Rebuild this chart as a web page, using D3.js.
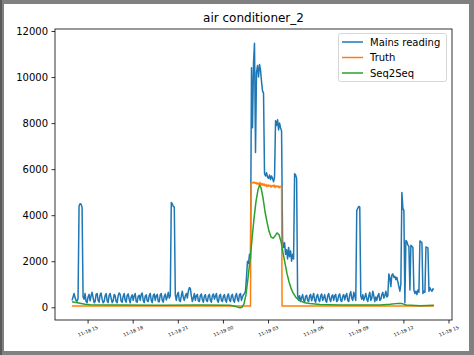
<!DOCTYPE html>
<html><head><meta charset="utf-8">
<script src="https://cdn.jsdelivr.net/npm/d3@7"></script>
<style>html,body{margin:0;padding:0;background:#808080;overflow:hidden} svg{display:block}</style>
</head><body>
<svg id="c" width="474" height="355"></svg>
<script>
const chartTitle = "air conditioner_2";
const seriesNames = ["Mains reading", "Truth", "Seq2Seq"];
const seriesColors = ["#1f77b4", "#ff7f0e", "#2ca02c"];

// time of first sample and sampling step of the mains reading
const startTime = new Date(2011, 10, 18, 13, 58);
const mainsStepMinutes = 4;

// Mains reading (W), one value per step
const mains = [
300,450,600,420,300,260,380,4400,4500,4480,
4350,450,350,600,250,200,450,560,280,500,
650,420,200,250,560,600,300,220,550,620,
350,200,250,500,600,280,200,520,600,400,
200,280,560,500,250,200,500,620,560,260,
220,480,600,300,220,520,580,350,200,450,
540,300,500,600,250,220,480,520,300,560,
620,300,200,480,540,280,250,520,600,300,
200,520,580,300,500,560,250,240,550,600,
300,220,480,580,320,450,650,400,500,4550,
4500,4380,4350,550,300,550,650,300,250,500,
700,420,300,500,600,400,700,850,820,500,
250,400,600,300,500,560,280,250,520,580,
320,220,480,550,300,250,500,560,300,220,
520,580,350,480,600,280,220,500,560,300,
250,480,550,300,220,500,580,320,250,500,
560,300,220,480,600,350,250,550,600,300,
450,550,600,700,1300,2000,1900,2300,2100,10400,
7800,10600,11470,6720,10200,10500,10000,10550,10300,9800,
9400,9300,5800,5700,5850,5650,5600,5750,5550,5700,
5600,5450,5650,8100,7900,8150,7700,8000,7800,7650,
2900,2600,2800,2300,2500,2100,2600,2200,2450,2000,
2300,2100,5800,5750,5600,550,300,500,250,420,
550,300,220,480,520,300,250,500,560,280,
450,600,300,220,480,560,320,250,500,580,
300,420,550,280,220,500,600,350,250,480,
540,300,500,560,250,300,520,580,300,250,
480,550,320,500,600,300,250,550,680,400,
300,650,500,300,4200,4300,4380,4350,500,350,
550,300,450,600,350,250,500,650,300,400,
700,500,250,450,300,500,600,300,350,550,
650,400,500,700,450,500,1450,1300,900,1400,
1450,1300,1350,1200,1300,1100,900,700,1000,4990,
4300,4200,200,2900,2850,2700,2650,750,2690,2650,
2600,750,600,700,550,750,650,2880,2850,2800,
600,700,650,2620,2600,2580,700,850,750,700,
800,780
];

// Truth (minutes after start, W)
const truthMinutes = [0,712,714,718,722,726,730,734,738,742,746,750,754,758,762,766,770,774,778,782,786,790,794,798,802,806,810,814,818,822,826,830,834,836,838,1444];
const truthWatts   = [60,60,5380,5420,5400,5440,5380,5420,5350,5400,5330,5420,5300,5380,5290,5360,5270,5330,5240,5320,5260,5300,5220,5290,5250,5310,5200,5280,5230,5270,5190,5260,5220,5240,60,60];

// Seq2Seq prediction (minutes after start, W)
const seqMinutes = [0,16,32,52,72,191,351,511,630,654,670,678,686,694,702,710,718,726,734,742,748,754,762,770,778,786,794,802,810,818,826,834,842,850,858,866,874,882,894,910,929,949,989,1069,1229,1269,1301,1317,1333,1389,1444];
const seqWatts   = [240,210,180,130,110,100,90,95,90,30,-20,0,150,550,1250,2050,2950,3850,4600,5100,5300,5200,4750,4150,3700,3300,3050,3000,3100,3230,3150,2850,2350,1900,1450,1100,820,620,420,280,200,160,120,100,100,130,170,160,100,70,90];

const yTicks = [0, 2000, 4000, 6000, 8000, 10000, 12000];
const xTickTimes = [
  new Date(2011,10,18,15), new Date(2011,10,18,18), new Date(2011,10,18,21),
  new Date(2011,10,19,0), new Date(2011,10,19,3), new Date(2011,10,19,6),
  new Date(2011,10,19,9), new Date(2011,10,19,12), new Date(2011,10,19,15)
];
const xTickLabels = ["11-18 15","11-18 18","11-18 21","11-19 00","11-19 03","11-19 06","11-19 09","11-19 12","11-19 15"];
const xDomain = [new Date(2011,10,18,12,50), new Date(2011,10,19,15,14)];
const yDomain = [-552, 12087];

// ---------- drawing ----------
const svg = d3.select("#c");
const L = 55, R = 452, T = 29, B = 320;
const font = "'DejaVu Sans', sans-serif";

svg.append("rect").attr("x", 0).attr("y", 0).attr("width", 2).attr("height", 355).attr("fill", "#5a5a5a");
svg.append("rect").attr("x", 4).attr("y", 4).attr("width", 465).attr("height", 347).attr("fill", "#fff");

const x = d3.scaleTime().domain(xDomain).range([L, R]);
const y = d3.scaleLinear().domain(yDomain).range([B, T]);
const addMin = m => new Date(startTime.getTime() + m * 60000);

const mainsData = mains.map((v, i) => ({t: addMin(i * mainsStepMinutes), v}));
const truthData = truthMinutes.map((m, i) => ({t: addMin(m), v: truthWatts[i]}));
const seqData = seqMinutes.map((m, i) => ({t: addMin(m), v: seqWatts[i]}));

svg.append("defs").append("clipPath").attr("id", "clip")
  .append("rect").attr("x", L).attr("y", T).attr("width", R - L).attr("height", B - T);

const line = d3.line().x(d => x(d.t)).y(d => y(d.v));
const g = svg.append("g").attr("clip-path", "url(#clip)");
[mainsData, truthData, seqData].forEach((data, i) => {
  g.append("path").datum(data).attr("d", line)
    .attr("fill", "none").attr("stroke", seriesColors[i])
    .attr("stroke-width", 1.5).attr("stroke-linejoin", "round");
});

// axes
const yAxis = d3.axisLeft(y).tickValues(yTicks).tickSize(3.5).tickPadding(3.5).tickFormat(d3.format("d"));
const ya = svg.append("g").attr("transform", `translate(${L},0)`).call(yAxis);
ya.select(".domain").remove();
ya.selectAll("line").attr("stroke", "#000").attr("stroke-width", 0.8);
ya.selectAll("text").attr("font-family", font).attr("font-size", 10).attr("fill", "#000");

const xAxis = d3.axisBottom(x).tickValues(xTickTimes).tickSize(3.5).tickFormat((d, i) => xTickLabels[i]);
const xa = svg.append("g").attr("transform", `translate(0,${B})`).call(xAxis);
xa.select(".domain").remove();
xa.selectAll("line").attr("stroke", "#000").attr("stroke-width", 0.8);
xa.selectAll("text")
  .attr("font-family", font).attr("font-size", 4.7).attr("fill", "#000")
  .attr("text-anchor", "middle").attr("dy", null).attr("y", 0)
  .attr("dominant-baseline", "middle")
  .attr("transform", "translate(0,11.5) rotate(-22)");

svg.append("rect").attr("x", L).attr("y", T).attr("width", R - L).attr("height", B - T)
  .attr("fill", "none").attr("stroke", "#000").attr("stroke-width", 0.8);

// title
svg.append("text").attr("x", (L + R) / 2).attr("y", 22).attr("text-anchor", "middle")
  .attr("font-family", font).attr("font-size", 12).attr("fill", "#000").text(chartTitle);

// legend
const lg = svg.append("g");
lg.append("rect").attr("x", 338.5).attr("y", 33.5).attr("width", 108).attr("height", 48).attr("rx", 2)
  .attr("fill", "#fff").attr("fill-opacity", 0.8).attr("stroke", "#cccccc").attr("stroke-width", 0.8);
seriesNames.forEach((n, i) => {
  const cy = 42 + i * 15.5;
  lg.append("line").attr("x1", 342).attr("x2", 363).attr("y1", cy).attr("y2", cy)
    .attr("stroke", seriesColors[i]).attr("stroke-width", 1.5);
  lg.append("text").attr("x", 370).attr("y", cy).attr("dominant-baseline", "central")
    .attr("font-family", font).attr("font-size", 10).attr("fill", "#000").text(n);
});
</script>
</body></html>
